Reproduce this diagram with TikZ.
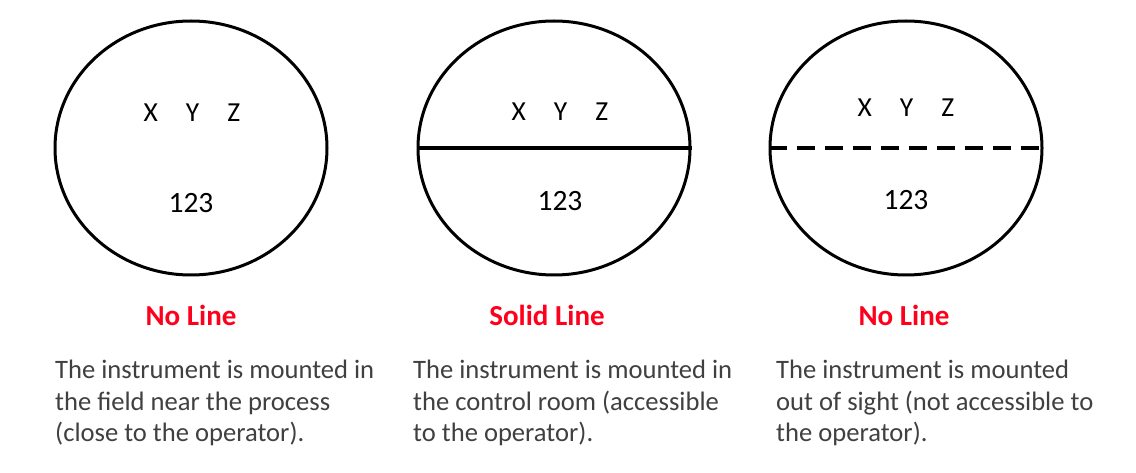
\documentclass[tikz,border=0pt]{standalone}
\usepackage{fontspec}
\setmainfont{Carlito}
\usetikzlibrary{shapes.geometric}
\definecolor{lblred}{RGB}{255,0,28}
\definecolor{txtgray}{RGB}{64,64,64}
\begin{document}
\begin{tikzpicture}[x=1pt,y=-1pt,
  bubble/.style={draw=black,line width=3pt,ellipse,inner sep=0pt,minimum width=272pt,minimum height=254pt},
  letters/.style={anchor=base,inner sep=0pt,font=\fontsize{27.5}{32}\selectfont,text=black},
  numbers/.style={anchor=base,inner sep=0pt,font=\fontsize{29.5}{32}\selectfont,text=black},
  title/.style={anchor=base,inner sep=0pt,font=\fontsize{29}{34}\selectfont\bfseries,text=lblred},
  desc/.style={anchor=base west,inner sep=0pt,font=\fontsize{26.6}{32}\selectfont,text=txtgray},
  divider/.style={line width=4pt},
  dashdivider/.style={line width=4pt,dash pattern=on 18pt off 10pt}]
\useasboundingbox (0,0) rectangle (1136,473);
\fill[white] (0,0) rectangle (1136,473);
% bubbles
\node[bubble] (c1) at (191,148) {};
\node[bubble] (c2) at (554,148) {};
\node[bubble] (c3) at (906,148) {};
\draw[divider] (c2.west) -- (c2.east);
\draw[dashdivider] (c3.west) -- (c3.east);
% letters
\node[letters] (t1) at (192,122) {X\hspace{28pt}Y\hspace{28pt}Z};
\node[numbers] (n1) at (191,213) {123};
\node[letters] (t2) at (560,121) {X\hspace{28pt}Y\hspace{28pt}Z};
\node[numbers] (n2) at (560,211) {123};
\node[letters] (t3) at (906,117) {X\hspace{28pt}Y\hspace{28pt}Z};
\node[numbers] (n3) at (906,210) {123};
% titles
\node[title] (h1) at (191,325) {No Line};
\node[title] (h2) at (547,325) {Solid Line};
\node[title] (h3) at (904,325) {No Line};
% descriptions
\node[desc] (d1a) at (55,378) {The instrument is mounted in};
\node[desc] (d1b) at (55,410) {the field near the process};
\node[desc] (d1c) at (55,441.5) {(close to the operator).};
\node[desc] (d2a) at (413,378) {The instrument is mounted in};
\node[desc] (d2b) at (413,410) {the control room (accessible};
\node[desc] (d2c) at (413,441.5) {to the operator).};
\node[desc] (d3a) at (776,378) {The instrument is mounted};
\node[desc] (d3b) at (776,410) {out of sight (not accessible to};
\node[desc] (d3c) at (776,441.5) {the operator).};
\end{tikzpicture}
\end{document}
